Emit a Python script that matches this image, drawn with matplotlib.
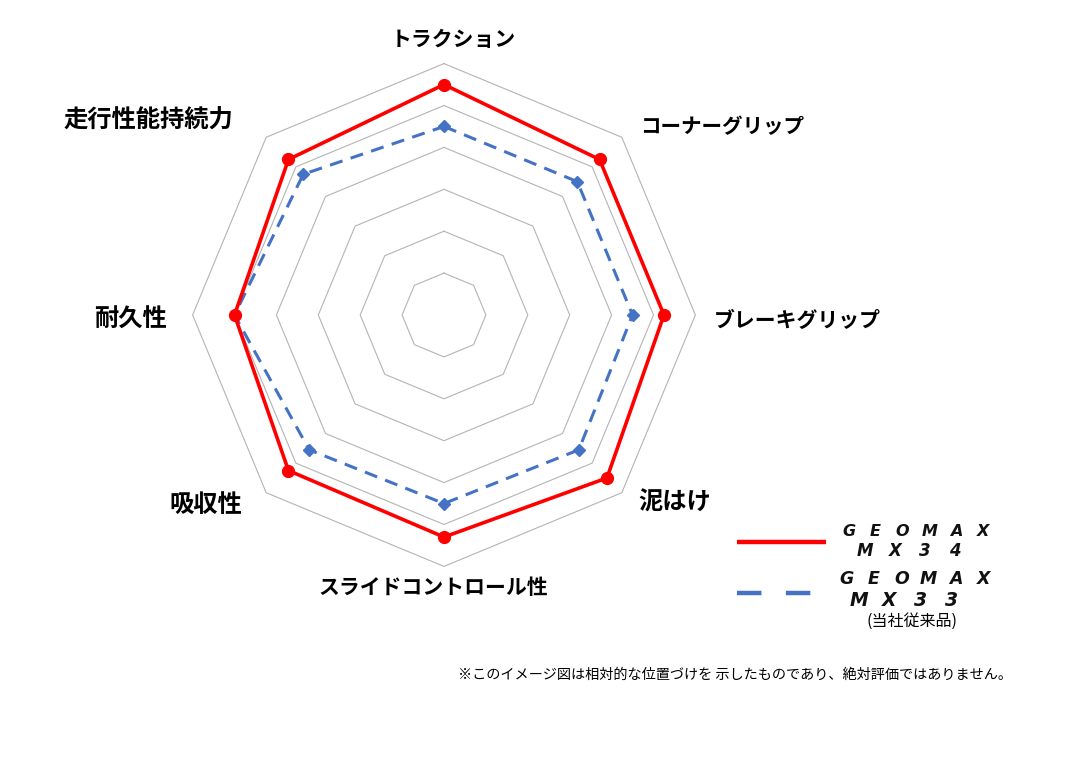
import numpy as np
import matplotlib
matplotlib.use("Agg")
import matplotlib.pyplot as plt

plt.rcParams['font.family'] = ['Noto Sans CJK JP', 'DejaVu Sans']

# ---- data ----
categories = ['トラクション', 'コーナーグリップ', 'ブレーキグリップ', '泥はけ',
              'スライドコントロール性', '吸収性', '耐久性', '走行性能持続力']
mx34 = [5.5, 5.25, 5.25, 5.5, 5.3, 5.25, 5.0, 5.25]
mx33 = [4.5, 4.5, 4.5, 4.55, 4.5, 4.55, 5.0, 4.75]
ring_levels = [1, 2, 3, 4, 5, 6]
legend_names = [["GEOMAX", "MX34"], ["GEOMAX", "MX33"]]
legend_note = "(当社従来品)"
footnote = "※このイメージ図は相対的な位置づけを 示したものであり、絶対評価ではありません。"

W, H = 1071, 757
fig = plt.figure(figsize=(W / 100, H / 100), dpi=100)
fig.patch.set_facecolor('white')

# main radar axes (Cartesian, octagonal grid)
cx, cy, unit, half = 444, 315, 41.9, 6.6
hp = half * unit
ax = fig.add_axes([(cx - hp) / W, (H - (cy + hp)) / H, 2 * hp / W, 2 * hp / H])
ax.set_xlim(-half, half)
ax.set_ylim(-half, half)
ax.set_aspect('equal')
ax.axis('off')

n = len(categories)
theta = np.deg2rad(90 - 45 * np.arange(n))

def polar_xy(vals):
    v = np.asarray(vals, dtype=float)
    x = v * np.cos(theta)
    y = v * np.sin(theta)
    return np.append(x, x[0]), np.append(y, y[0])

for lv in ring_levels:
    gx, gy = polar_xy([lv] * n)
    ax.plot(gx, gy, color='#B4B4B4', lw=0.8, zorder=1)

bx, by = polar_xy(mx33)
ax.plot(bx, by, color='#4472C4', lw=2.2, dashes=(4.3, 2.8),
        marker='D', markersize=6, markevery=list(range(n)), zorder=3)
rx, ry = polar_xy(mx34)
ax.plot(rx, ry, color='#FF0000', lw=2.6, marker='o', markersize=8.5,
        markevery=list(range(n)), zorder=4)

# overlay axes in pixel coordinates for labels / legend / footnote
ov = fig.add_axes([0, 0, 1, 1])
ov.set_xlim(0, W)
ov.set_ylim(H, 0)
ov.axis('off')
ov.patch.set_alpha(0)

label_pos = [(453, 39), (722, 127), (797, 320), (675, 503),
             (433, 588), (206, 505), (130, 320), (148, 120)]
label_size = [15, 14.8, 15, 17.5, 15, 17.5, 17.5, 17.5]
for lab, (px, py), fs in zip(categories, label_pos, label_size):
    ov.text(px, py, lab, ha='center', va='center', fontsize=fs,
            fontweight='bold', color='black')

# legend
ov.plot([737, 826], [542, 542], color='#FF0000', lw=3.2, solid_capstyle='butt')
ov.plot([737, 826], [593, 593], color='#4472C4', lw=3.2, dashes=(5.5, 5.5),
        solid_capstyle='butt', dash_capstyle='butt')

def logo(word, x0, x1, yc, fs):
    pitch = (x1 - x0) / len(word)
    for i, ch in enumerate(word):
        ov.text(x0 + pitch * (i + 0.5), yc, ch, ha='center', va='center',
                fontsize=fs, fontweight='heavy', fontstyle='italic',
                family='DejaVu Sans', color='#111111')

logo(legend_names[0][0], 835, 997, 531, 11.5)
logo(legend_names[0][1], 850, 970, 551, 12)
logo(legend_names[1][0], 833, 997, 579, 12.5)
logo(legend_names[1][1], 843, 967, 601, 13.5)
ov.text(912, 621, legend_note, ha='center', va='center', fontsize=11.5)

ov.text(458, 675, footnote, ha='left', va='center', fontsize=10.2)

fig.savefig('out.png', dpi=100, facecolor='white')
